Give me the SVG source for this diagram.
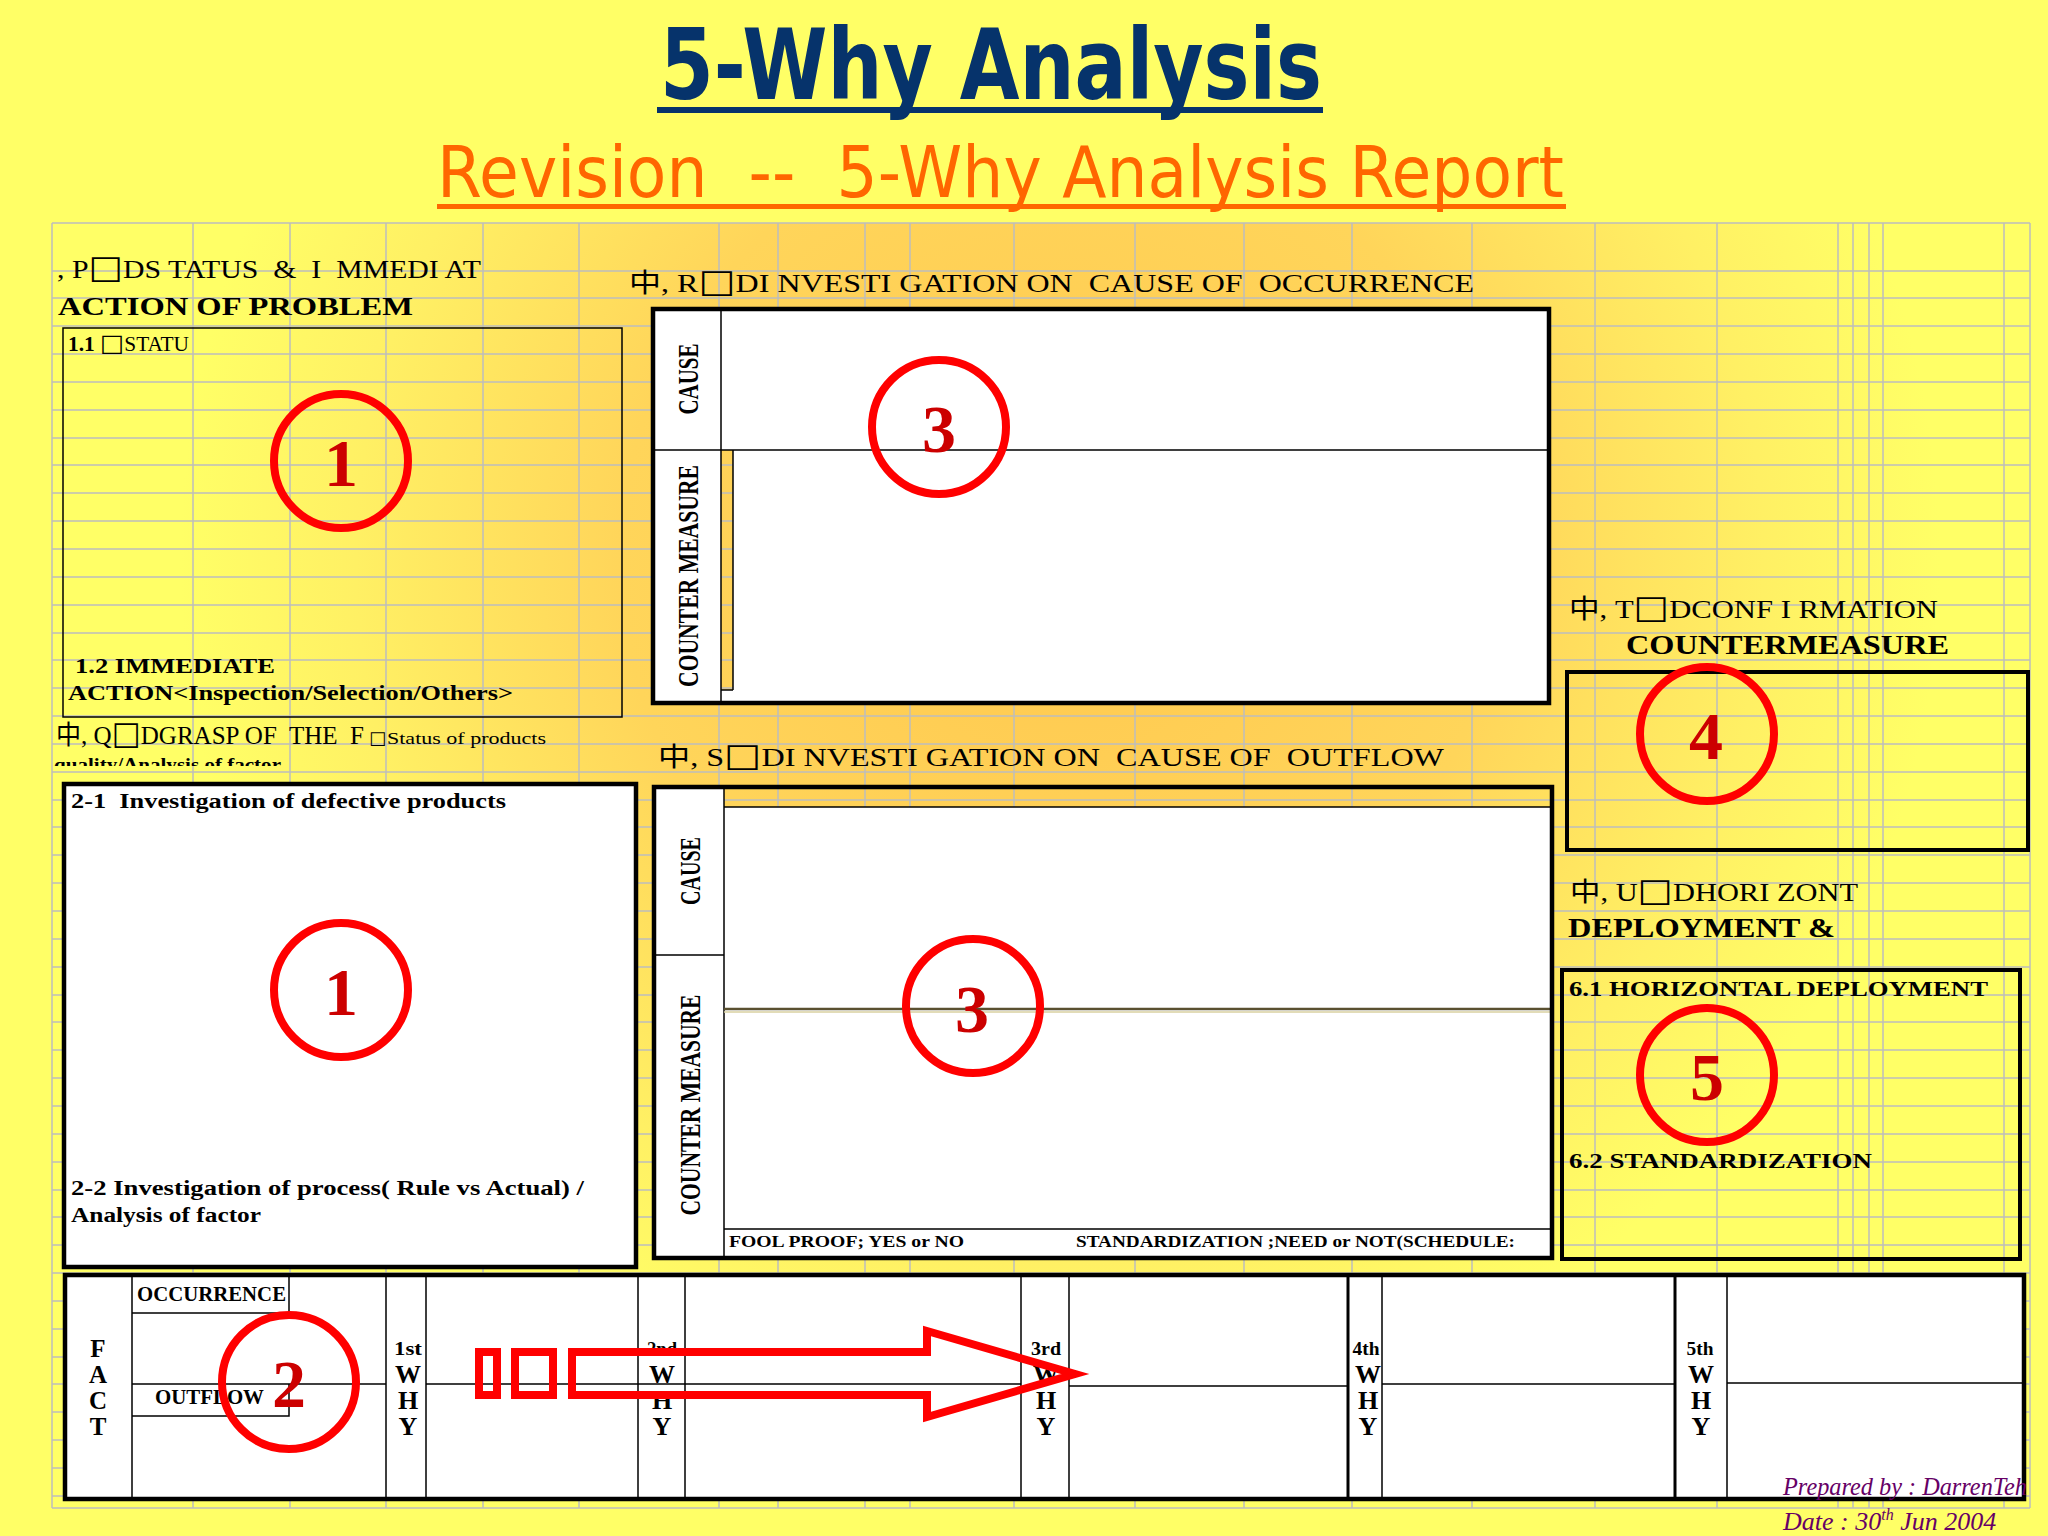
<svg xmlns="http://www.w3.org/2000/svg" width="2048" height="1536" viewBox="0 0 2048 1536">
<defs>
<radialGradient id="glow" gradientUnits="userSpaceOnUse" cx="1060" cy="560" r="880">
<stop offset="0" stop-color="#FFC84F"/>
<stop offset="0.5" stop-color="#FFD55A"/>
<stop offset="0.8" stop-color="#FFF064"/>
<stop offset="1" stop-color="#FFFF66"/>
</radialGradient>
<clipPath id="clipQ"><rect x="50" y="750" width="600" height="16"/></clipPath>
<style>
.s{font-family:"Liberation Serif","Times New Roman",serif;fill:#000}
.cjk{font-family:"Liberation Serif","Noto Sans CJK SC",serif;fill:#000}
.bx{font-family:"DejaVu Sans",sans-serif;font-weight:normal}
.b{font-weight:bold}
.grid{stroke:#BDBDBD;stroke-width:1.5;fill:none}
.thin{stroke:#000;stroke-width:1.5;fill:none}
.thick{stroke:#000;stroke-width:4.5;fill:none}
.ring{stroke:#FF0000;stroke-width:8;fill:none}
.num{font-family:"Liberation Serif","Times New Roman",serif;font-weight:bold;font-size:68px;fill:#CC0000;text-anchor:middle}
.mid{text-anchor:middle}
.sig{font-family:"Liberation Serif","Times New Roman",serif;font-style:italic;fill:#660066}
</style>
</defs>

<rect x="0" y="0" width="2048" height="1536" fill="#FFFF66"/>
<rect x="52" y="223" width="1978" height="1285" fill="url(#glow)"/>

<g id="grid">
<path class="grid" d="M52 223V1508M193 223V1508M290 223V1508M386 223V1508M483 223V1508M579 223V1508M719 223V1508M778 223V1508M865 223V1508M910 223V1508M1014 223V1508M1135 223V1508M1244 223V1508M1352 223V1508M1472 223V1508M1595 223V1508M1717 223V1508M1838 223V1508M1853 223V1508M1869 223V1508M1883 223V1508M2004 223V1508M2030 223V1508"/>
<path class="grid" d="M52 223H2030M52 271H2030M52 298H2030M52 326H2030M52 354H2030M52 382H2030M52 410H2030M52 438H2030M52 465H2030M52 493H2030M52 521H2030M52 549H2030M52 577H2030M52 605H2030M52 633H2030M52 660H2030M52 688H2030M52 716H2030M52 744H2030M52 772H2030M52 800H2030M52 827H2030M52 855H2030M52 883H2030M52 911H2030M52 939H2030M52 967H2030M52 995H2030M52 1022H2030M52 1050H2030M52 1078H2030M52 1106H2030M52 1134H2030M52 1162H2030M52 1190H2030M52 1217H2030M52 1245H2030M52 1273H2030M52 1301H2030M52 1329H2030M52 1357H2030M52 1384H2030M52 1412H2030M52 1440H2030M52 1468H2030M52 1496H2030M52 1508H2030"/>
</g>

<g id="title">
<text x="660" y="99" font-family="DejaVu Sans, sans-serif" font-weight="bold" font-size="98" fill="#06336B" textLength="662" lengthAdjust="spacingAndGlyphs">5-Why Analysis</text>
<rect x="657" y="107" width="666" height="6" fill="#06336B"/>
<text x="437" y="197" font-family="DejaVu Sans, sans-serif" font-size="72" fill="#FF6600" textLength="1127" lengthAdjust="spacingAndGlyphs" xml:space="preserve">Revision  --  5-Why Analysis Report</text>
<rect x="437" y="204" width="1129" height="5" fill="#FF6600"/>
</g>

<g id="sec1">
<text class="s" x="57" y="278" font-size="26" textLength="424" lengthAdjust="spacingAndGlyphs" xml:space="preserve">, P<tspan class="bx" font-size="32">□</tspan>DS TATUS  &amp;  I  MMEDI AT</text>
<text class="s b" x="58" y="315" font-size="26" textLength="355" lengthAdjust="spacingAndGlyphs">ACTION OF PROBLEM</text>
<rect class="thin" x="63" y="328" width="559" height="389"/>
<text class="s" x="68" y="351" font-size="20" textLength="121" lengthAdjust="spacingAndGlyphs"><tspan font-weight="bold">1.1 </tspan><tspan class="bx" font-size="24">□</tspan>STATU</text>
<text class="s b" x="75" y="673" font-size="21" textLength="200" lengthAdjust="spacingAndGlyphs">1.2 IMMEDIATE</text>
<text class="s b" x="68" y="700" font-size="21" textLength="445" lengthAdjust="spacingAndGlyphs">ACTION&lt;Inspection/Selection/Others&gt;</text>
<circle class="ring" cx="341" cy="461" r="67"/>
<text class="num" x="341" y="486">1</text>
</g>

<g id="sec2">
<text class="cjk" x="56" y="744" font-size="26" textLength="308" lengthAdjust="spacingAndGlyphs" xml:space="preserve">中, Q<tspan class="bx" font-size="32">□</tspan>DGRASP OF  THE  F</text>
<text class="s bx" x="369" y="744" font-size="18">□</text>
<text class="s" x="387" y="744" font-size="17" textLength="159" lengthAdjust="spacingAndGlyphs">Status of products</text>
<g clip-path="url(#clipQ)"><text class="s b" x="54" y="771" font-size="18" textLength="227" lengthAdjust="spacingAndGlyphs">quality/Analysis of factor</text></g>
<rect x="64" y="784" width="572" height="483" fill="#FFFFFF" stroke="#000" stroke-width="4.5"/>
<text class="s b" x="71" y="808" font-size="20" textLength="435" lengthAdjust="spacingAndGlyphs" xml:space="preserve">2-1  Investigation of defective products</text>
<text class="s b" x="71" y="1195" font-size="20" textLength="513" lengthAdjust="spacingAndGlyphs">2-2 Investigation of process( Rule vs Actual) /</text>
<text class="s b" x="71" y="1222" font-size="20" textLength="190" lengthAdjust="spacingAndGlyphs">Analysis of factor</text>
<circle class="ring" cx="341" cy="990" r="67"/>
<text class="num" x="341" y="1015">1</text>
</g>

<g id="sec3a">
<text class="cjk" x="629" y="292" font-size="26" textLength="845" lengthAdjust="spacingAndGlyphs" xml:space="preserve">中, R<tspan class="bx" font-size="32">□</tspan>DI NVESTI GATION ON  CAUSE OF  OCCURRENCE</text>
<rect x="653" y="309" width="68" height="394" fill="#FFFFFF"/>
<rect x="721" y="309" width="828" height="141" fill="#FFFFFF"/>
<rect x="733" y="450" width="816" height="253" fill="#FFFFFF"/>
<rect x="721" y="690" width="12" height="13" fill="#FFFFFF"/>
<path class="thin" d="M721 309V703M653 450H1549M733 450V690M721 690H733"/>
<rect class="thick" x="653" y="309" width="896" height="394"/>
<text class="s b mid" font-size="30" textLength="71" lengthAdjust="spacingAndGlyphs" transform="translate(698 379) rotate(-90)">CAUSE</text>
<text class="s b mid" font-size="30" textLength="222" lengthAdjust="spacingAndGlyphs" transform="translate(698 576) rotate(-90)">COUNTER MEASURE</text>
<circle class="ring" cx="939" cy="427" r="67"/>
<text class="num" x="939" y="452">3</text>
</g>

<g id="sec3b">
<text class="cjk" x="658" y="766" font-size="26" textLength="786" lengthAdjust="spacingAndGlyphs" xml:space="preserve">中, S<tspan class="bx" font-size="32">□</tspan>DI NVESTI GATION ON  CAUSE OF  OUTFLOW</text>
<rect x="654" y="787" width="70" height="471" fill="#FFFFFF"/>
<rect x="724" y="807" width="828" height="451" fill="#FFFFFF"/>
<path class="thin" d="M724 787V1258M654 955H724M724 807H1552M724 1229H1552"/>
<path d="M724 1009H1552" stroke="#5A5030" stroke-width="2.5" fill="none"/>
<path d="M724 1012H1552" stroke="#D8D0A0" stroke-width="1.5" fill="none"/>
<rect class="thick" x="654" y="787" width="898" height="471"/>
<text class="s b mid" font-size="30" textLength="68" lengthAdjust="spacingAndGlyphs" transform="translate(700 871) rotate(-90)">CAUSE</text>
<text class="s b mid" font-size="30" textLength="221" lengthAdjust="spacingAndGlyphs" transform="translate(700 1105) rotate(-90)">COUNTER MEASURE</text>
<text class="s b" x="729" y="1247" font-size="17" textLength="235" lengthAdjust="spacingAndGlyphs">FOOL PROOF; YES or NO</text>
<text class="s b" x="1076" y="1247" font-size="17" textLength="439" lengthAdjust="spacingAndGlyphs">STANDARDIZATION ;NEED or NOT(SCHEDULE:</text>
<circle class="ring" cx="973" cy="1006" r="67"/>
<text class="num" x="972" y="1032">3</text>
</g>

<g id="sec4">
<text class="cjk" x="1569" y="618" font-size="26" textLength="369" lengthAdjust="spacingAndGlyphs" xml:space="preserve">中, T<tspan class="bx" font-size="32">□</tspan>DCONF I RMATION</text>
<text class="s b" x="1626" y="654" font-size="27" textLength="323" lengthAdjust="spacingAndGlyphs">COUNTERMEASURE</text>
<rect x="1567" y="672" width="461" height="178" fill="none" stroke="#000" stroke-width="4"/>
<circle class="ring" cx="1707" cy="734" r="67"/>
<text class="num" x="1706" y="759">4</text>
</g>

<g id="sec5">
<text class="cjk" x="1570" y="901" font-size="26" textLength="288" lengthAdjust="spacingAndGlyphs" xml:space="preserve">中, U<tspan class="bx" font-size="32">□</tspan>DHORI ZONT</text>
<text class="s b" x="1568" y="937" font-size="27" textLength="267" lengthAdjust="spacingAndGlyphs">DEPLOYMENT &amp;</text>
<rect x="1562" y="970" width="458" height="289" fill="none" stroke="#000" stroke-width="4"/>
<text class="s b" x="1569" y="996" font-size="22" textLength="419" lengthAdjust="spacingAndGlyphs">6.1 HORIZONTAL DEPLOYMENT</text>
<text class="s b" x="1569" y="1168" font-size="22" textLength="303" lengthAdjust="spacingAndGlyphs">6.2 STANDARDIZATION</text>
<circle class="ring" cx="1707" cy="1075" r="67"/>
<text class="num" x="1707" y="1100">5</text>
</g>

<g id="whyband">
<rect x="65" y="1275" width="1959" height="224" fill="#FFFFFF"/>
<path class="thin" d="M132 1275V1499M386 1275V1499M426 1275V1499M638 1275V1499M685 1275V1499M1021 1275V1499M1069 1275V1499M1382 1275V1499M1727 1275V1499"/>
<path d="M1348 1275V1499M1675 1275V1499" stroke="#000" stroke-width="3" fill="none"/>
<path class="thin" d="M132 1313H289V1277M132 1384H386M132 1416H289V1384M426 1384H1021M1069 1386H1348M1382 1384H1675M1727 1383H2022"/>
<rect class="thick" x="65" y="1275" width="1959" height="224"/>
<g class="s b mid" font-size="25">
<text x="98" y="1357">F</text>
<text x="98" y="1383">A</text>
<text x="98" y="1409">C</text>
<text x="98" y="1435">T</text>
</g>
<text class="s b" x="137" y="1301" font-size="20" textLength="149" lengthAdjust="spacingAndGlyphs">OCCURRENCE</text>
<text class="s b" x="155" y="1404" font-size="21" textLength="109" lengthAdjust="spacingAndGlyphs">OUTFLOW</text>
<g class="s b mid" font-size="18">
<text x="408" y="1355" textLength="28" lengthAdjust="spacingAndGlyphs">1st</text>
<text x="662" y="1355" textLength="30" lengthAdjust="spacingAndGlyphs">2nd</text>
<text x="1046" y="1355" textLength="30" lengthAdjust="spacingAndGlyphs">3rd</text>
<text x="1366" y="1355" textLength="27" lengthAdjust="spacingAndGlyphs">4th</text>
<text x="1700" y="1355" textLength="27" lengthAdjust="spacingAndGlyphs">5th</text>
</g>
<g class="s b mid" font-size="26">
<text x="408" y="1383">W</text><text x="408" y="1409">H</text><text x="408" y="1435">Y</text>
<text x="662" y="1383">W</text><text x="662" y="1409">H</text><text x="662" y="1435">Y</text>
<text x="1046" y="1383">W</text><text x="1046" y="1409">H</text><text x="1046" y="1435">Y</text>
<text x="1368" y="1383">W</text><text x="1368" y="1409">H</text><text x="1368" y="1435">Y</text>
<text x="1701" y="1383">W</text><text x="1701" y="1409">H</text><text x="1701" y="1435">Y</text>
</g>
<circle class="ring" cx="289" cy="1382" r="67"/>
<text class="num" x="289" y="1407">2</text>
</g>

<g id="connectors">
<rect x="479" y="1352" width="18" height="43" fill="none" stroke="#FF0000" stroke-width="8"/>
<rect x="515" y="1352" width="38" height="43" fill="none" stroke="#FF0000" stroke-width="8"/>
<polygon points="572,1352 927,1352 927,1331 1075,1374 927,1417 927,1395 572,1395" fill="none" stroke="#FF0000" stroke-width="8" stroke-miterlimit="6"/>
</g>

<g id="signature">
<text class="sig" x="1783" y="1495" font-size="25" textLength="244" lengthAdjust="spacingAndGlyphs">Prepared by : DarrenTeh</text>
<text class="sig" x="1783" y="1530" font-size="26">Date : 30<tspan dy="-10" font-size="16">th</tspan><tspan dy="10"> Jun 2004</tspan></text>
</g>
</svg>
